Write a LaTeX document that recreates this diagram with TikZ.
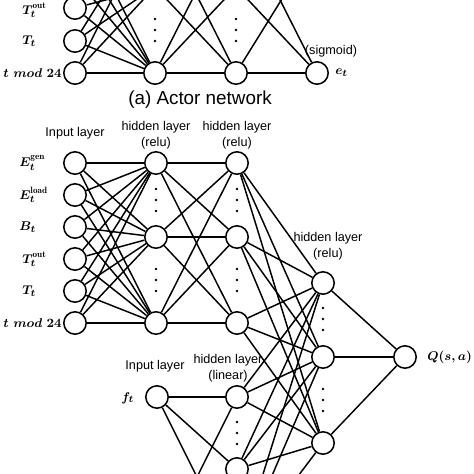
\documentclass[tikz,border=0pt]{standalone}
\usepackage{amsmath}
\usepackage{bm}
\usepackage{fontspec}
\setsansfont{Liberation Sans}
\usepackage{tikz}
\usetikzlibrary{positioning,calc}

\tikzset{
  neuron/.style={circle,draw,line width=1.1pt,minimum size=0.56cm,inner sep=0pt,fill=white},
  conn/.style={line width=1.05pt},
  laytext/.style={font=\sffamily\fontsize{9}{11.4}\selectfont,align=center,inner sep=0pt},
  mathlab/.style={font=\fontsize{9.3}{11}\selectfont\boldmath,inner sep=0pt}
}
\newcommand{\colDots}[2]{%
  \foreach \dy in {-11,0,11} \fill (#1,#2+\dy) circle (0.035cm);}

\begin{document}
\begin{tikzpicture}[x=0.025cm,y=-0.025cm]
  \clip (0,0) rectangle (474,474);
  \fill[white] (0,0) rectangle (474,474);

  \node[neuron] (a1) at (75,-87) {};
  \node[neuron] (a2) at (75,-55) {};
  \node[neuron] (a3) at (75,-23) {};
  \node[neuron] (a4) at (75,8) {};
  \node[neuron] (a5) at (75,41) {};
  \node[neuron] (a6) at (75,73) {};
  \node[neuron] (ah1) at (155,-87) {};
  \node[neuron] (ah2) at (155,-13) {};
  \node[neuron] (ah3) at (155,73) {};
  \node[neuron] (ak1) at (236,-87) {};
  \node[neuron] (ak2) at (236,-13) {};
  \node[neuron] (ak3) at (236,73) {};
  \node[neuron] (e) at (317,73) {};
  \coordinate (acut) at (290,-14);

  \node[mathlab,anchor=west] (la4) at (22,10) {$T_t^{\mathrm{out}}$};
  \node[mathlab,anchor=west] (la5) at (22,41) {$T_t$};
  \node[mathlab,anchor=east] (la6) at (62,73) {$t\ mod\ 24$};
  \node[mathlab,anchor=west] (le) at (335,73) {$e_t$};
  \node[laytext] (sig) at (331,51) {(sigmoid)};
  \node[font=\sffamily\fontsize{13.4}{15}\selectfont,inner sep=0pt] (atitle) at (200,100) {(a) Actor network};

  \foreach \i in {1,...,6} \foreach \j in {1,2,3} \draw[conn] (a\i) -- (ah\j);
  \foreach \i in {1,2,3} \foreach \j in {1,2,3} \draw[conn] (ah\i) -- (ak\j);
  \foreach \i in {1,2,3} \draw[conn] (ak\i) -- (e);
  \draw[conn] (ak3) -- (acut);
  \colDots{155}{30}
  \colDots{236}{30}

  \node[neuron] (c1) at (75,163) {};
  \node[neuron] (c2) at (75,195) {};
  \node[neuron] (c3) at (75,227) {};
  \node[neuron] (c4) at (75,259) {};
  \node[neuron] (c5) at (75,291) {};
  \node[neuron] (c6) at (75,323) {};
  \node[neuron] (ch1) at (156,163) {};
  \node[neuron] (ch2) at (156,237) {};
  \node[neuron] (ch3) at (156,323) {};
  \node[neuron] (cg1) at (237,163) {};
  \node[neuron] (cg2) at (237,237) {};
  \node[neuron] (cg3) at (237,323) {};
  \node[neuron] (cr1) at (323,283) {};
  \node[neuron] (cr2) at (323,357) {};
  \node[neuron] (cr3) at (323,443) {};
  \node[neuron] (q) at (405,357) {};
  \node[neuron] (f1) at (157,397) {};
  \node[neuron] (f2) at (157,557) {};
  \node[neuron] (fl1) at (237,397) {};
  \node[neuron] (fl2) at (237,469) {};
  \node[neuron] (fl3) at (237,557) {};

  \node[mathlab,anchor=west] (lc1) at (19,163) {$E_t^{\mathrm{gen}}$};
  \node[mathlab,anchor=west] (lc2) at (19,195) {$E_t^{\mathrm{load}}$};
  \node[mathlab,anchor=west] (lc3) at (19,227) {$B_t$};
  \node[mathlab,anchor=west] (lc4) at (22,259) {$T_t^{\mathrm{out}}$};
  \node[mathlab,anchor=west] (lc5) at (22,291) {$T_t$};
  \node[mathlab,anchor=east] (lc6) at (62,323) {$t\ mod\ 24$};
  \node[mathlab,anchor=west] (lq) at (427,357) {$Q(s,a)$};
  \node[mathlab,anchor=west] (lf) at (121,398) {$f_t$};

  \node[laytext] (tin) at (75,133) {Input layer};
  \node[laytext] (th1) at (156,135) {hidden layer\\(relu)};
  \node[laytext] (th2) at (237,135) {hidden layer\\(relu)};
  \node[laytext] (th3) at (328,246) {hidden layer\\(relu)};
  \node[laytext] (tfin) at (155,366) {Input layer};
  \node[laytext] (tlin) at (228,368) {hidden layer\\(linear)};

  \foreach \i in {1,...,6} \foreach \j in {1,2,3} \draw[conn] (c\i) -- (ch\j);
  \foreach \i in {1,2,3} \foreach \j in {1,2,3} {
    \draw[conn] (ch\i) -- (cg\j);
    \draw[conn] (cg\i) -- (cr\j);
    \draw[conn] (fl\i) -- (cr\j);
  }
  \foreach \i in {1,2} \foreach \j in {1,2,3} \draw[conn] (f\i) -- (fl\j);
  \foreach \i in {1,2,3} \draw[conn] (cr\i) -- (q);

  \colDots{156}{200}
  \colDots{156}{280}
  \colDots{237}{200}
  \colDots{237}{280}
  \colDots{323}{319}
  \colDots{323}{400}
  \colDots{237}{433}
\end{tikzpicture}
\end{document}
